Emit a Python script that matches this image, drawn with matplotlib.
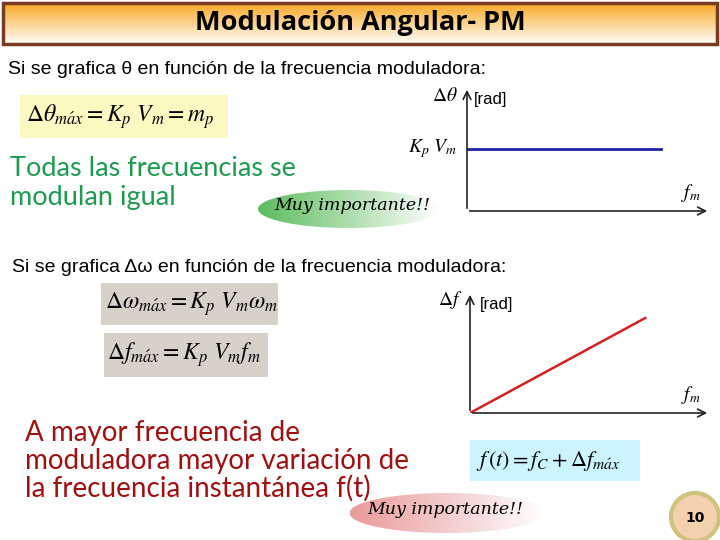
import numpy as np
import matplotlib
matplotlib.use('Agg')
from matplotlib import pyplot as plt
from matplotlib.patches import Rectangle, Ellipse, Circle
from matplotlib.colors import LinearSegmentedColormap

plt.rcParams['mathtext.fontset'] = 'stix'

# data for the two small graphs
fm_pm = [0.0, 0.8]          # fm (normalised)
dtheta_pm = [1.0, 1.0]      # delta theta = Kp Vm, constant
fm_fm = [0.0, 0.73]
df_fm = [0.0, 0.785]        # delta f grows with fm

title = 'Modulación Angular- PM'
line1 = 'Si se grafica θ en función de la frecuencia moduladora:'
line2 = 'Si se grafica Δω en función de la frecuencia moduladora:'
green_lines = ['Todas las frecuencias se', 'modulan igual']
red_txt = 'A mayor frecuencia de\nmoduladora mayor variación de\nla frecuencia instantánea f(t)'
page = '10'

fig = plt.figure(figsize=(7.2, 5.4), dpi=100)
bg = fig.add_axes([0, 0, 1, 1])
bg.set_xlim(0, 720)
bg.set_ylim(540, 0)
bg.axis('off')


def grad_box(ax, x0, y0, x1, y1, c0, c1, vertical=True, clip=None):
    g = np.linspace(0, 1, 256)
    g = g.reshape(-1, 1) if vertical else g.reshape(1, -1)
    cmap = LinearSegmentedColormap.from_list('g', [c0, c1])
    im = ax.imshow(g, cmap=cmap, extent=(x0, x1, y1, y0), aspect='auto',
                   interpolation='bicubic', zorder=1)
    if clip is not None:
        im.set_clip_path(clip)
    return im


# title bar
grad_box(bg, 3, 3, 717, 44, '#F7A823', '#FFFFFF')
bg.add_patch(Rectangle((3, 3), 714, 41, fill=False, ec='#7A3B22', lw=2.5, zorder=3))
bg.text(360, 23, title, ha='center', va='center', fontsize=19.5,
        fontweight='bold', family='Open Sans', zorder=4)

bg.text(8, 70, line1, ha='left', va='center', fontsize=14, family='Liberation Sans')
bg.text(12, 268, line2, ha='left', va='center', fontsize=14, family='Liberation Sans')

# formula boxes
bg.add_patch(Rectangle((20, 95), 208, 43, fc='#FCF8C2', ec='none', zorder=1))
bg.text(26, 117, r'$\Delta\theta_{m\acute{a}x} = K_p\ V_m = m_p$', fontsize=17,
        va='center', zorder=2)
bg.add_patch(Rectangle((101, 283), 177, 42, fc='#D6D2CA', ec='none', zorder=1))
bg.text(105, 304, r'$\Delta\omega_{m\acute{a}x} = K_p\ V_m\omega_m$', fontsize=17,
        va='center', zorder=2)
bg.add_patch(Rectangle((104, 333), 164, 44, fc='#D6D2CA', ec='none', zorder=1))
bg.text(107, 355, r'$\Delta f_{m\acute{a}x} = K_p\ V_m f_m$', fontsize=17,
        va='center', zorder=2)
bg.add_patch(Rectangle((470, 440), 170, 41, fc='#CCF4FF', ec='none', zorder=1))
bg.text(476, 461, r'$f\,(t) = f_C + \Delta f_{m\acute{a}x}$', fontsize=16,
        va='center', zorder=2)

# handwritten notes
for k, ln in enumerate(green_lines):
    bg.text(10, 169 + 28 * k, ln, color='#1E9A50', fontsize=19.5, va='center',
            family='Lato')
bg.text(25, 461, red_txt, color='#A01010', fontsize=20, va='center',
        family='Lato', linespacing=1.08)

# "Muy importante!!" ellipses
e1 = Ellipse((349, 209), 182, 38, fc='none', ec='none')
bg.add_patch(e1)
grad_box(bg, 258, 190, 440, 228, '#5DBB5D', '#FFFFFF', vertical=False, clip=e1)
bg.text(352, 206, 'Muy importante!!', fontsize=12.5, style='italic',
        family='DejaVu Serif', ha='center', va='center', zorder=3)
e2 = Ellipse((447, 513), 195, 40, fc='none', ec='none')
bg.add_patch(e2)
grad_box(bg, 350, 493, 545, 533, '#E99A9A', '#FFFFFF', vertical=False, clip=e2)
bg.text(445, 510, 'Muy importante!!', fontsize=12.5, style='italic',
        family='DejaVu Serif', ha='center', va='center', zorder=3)

# page number
bg.add_patch(Circle((695, 517), 24, fc='#F3D1AE', ec='#CFC27A', lw=3, zorder=2))
bg.text(695, 518, page, ha='center', va='center', fontsize=10,
        fontweight='bold', zorder=3)


def arrow_axes(ax):
    for s in ax.spines.values():
        s.set_visible(False)
    ax.set_xticks([])
    ax.set_yticks([])
    ax.patch.set_alpha(0)
    kw = dict(arrowstyle='->', lw=1.2, color='#222222', mutation_scale=14)
    ax.annotate('', xy=(1, 0), xytext=(0, 0), xycoords='axes fraction',
                arrowprops=kw)
    ax.annotate('', xy=(0, 1), xytext=(0, 0), xycoords='axes fraction',
                arrowprops=kw)


# graph 1: PM, delta theta vs fm
ax1 = fig.add_axes([467 / 720, 1 - 211 / 540, 243 / 720, 124 / 540])
arrow_axes(ax1)
ax1.set_xlim(0, 1)
ax1.set_ylim(0, 2)
ax1.plot(fm_pm, dtheta_pm, color='#1E22A0', lw=2)
ax1.text(-0.04, 1, r'$K_p\ V_m$', ha='right', va='center', fontsize=14)
ax1.text(-0.04, 1.86, r'$\Delta\theta$', ha='right', va='center', fontsize=14)
ax1.text(0.03, 1.8, '[rad]', ha='left', va='center', fontsize=12, family='Liberation Sans')
ax1.text(0.92, 0.12, r'$f_m$', ha='center', va='bottom', fontsize=14)

# graph 2: delta f vs fm
ax2 = fig.add_axes([470 / 720, 1 - 413 / 540, 240 / 720, 121 / 540])
arrow_axes(ax2)
ax2.set_xlim(0, 1)
ax2.set_ylim(0, 1)
ax2.plot(fm_fm, df_fm, color='#D42020', lw=1.8)
ax2.text(-0.03, 0.93, r'$\Delta f$', ha='right', va='center', fontsize=14)
ax2.text(0.04, 0.9, '[rad]', ha='left', va='center', fontsize=12, family='Liberation Sans')
ax2.text(0.92, 0.06, r'$f_m$', ha='center', va='bottom', fontsize=14)

plt.savefig('out.png', dpi=100)
